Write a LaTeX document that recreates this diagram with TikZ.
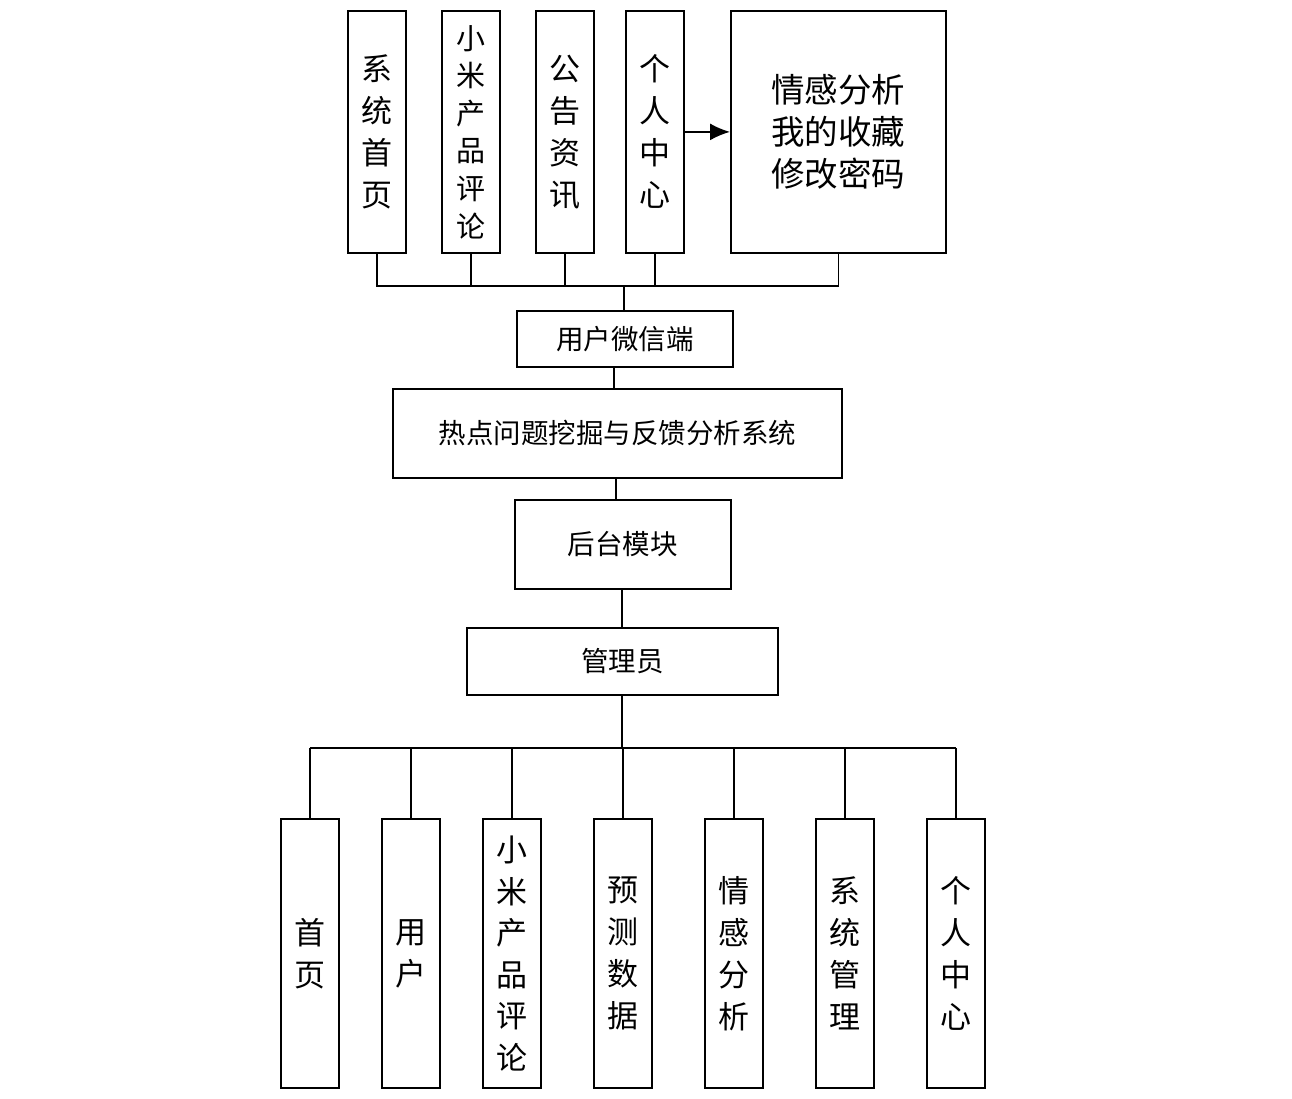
\documentclass[tikz,border=0pt]{standalone}
\usepackage{fontspec}
\setmainfont{Noto Sans CJK SC}
\usetikzlibrary{arrows.meta}
\begin{document}
\begin{tikzpicture}[x=1pt,y=-1pt,
  box/.style={draw=black,line width=1.8pt,inner sep=0pt,anchor=north west},
  vtxt/.style={align=center,font=\fontsize{31}{42}\selectfont},
  htxt/.style={font=\fontsize{27.5}{30}\selectfont},
  conn/.style={line width=1.8pt}]
\useasboundingbox (0,0) rectangle (1292,1099);
% top row
\node[box,minimum width=58pt,minimum height=242pt] (t1) at (347,10) {};
\node[box,minimum width=58pt,minimum height=242pt] (t2) at (441,10) {};
\node[box,minimum width=58pt,minimum height=242pt] (t3) at (535,10) {};
\node[box,minimum width=58pt,minimum height=242pt] (t4) at (625,10) {};
\node[box,minimum width=215pt,minimum height=242pt] (t5) at (730,10) {};
\node[vtxt] at (t1.center) {系\\统\\首\\页};
\node[vtxt,font=\fontsize{29}{37.6}\selectfont] at (t2.center) {小\\米\\产\\品\\评\\论};
\node[vtxt] at (t3.center) {公\\告\\资\\讯};
\node[vtxt] at (t4.center) {个\\人\\中\\心};
\node[vtxt,font=\fontsize{33.5}{42}\selectfont] at (t5.center) {情感分析\\我的收藏\\修改密码};
\draw[conn,-{Latex[length=20pt,width=17pt]}] (t4.east) -- (t5.west);
% middle
\node[box,minimum width=216pt,minimum height=56pt] (u) at (516,310) {};
\node[htxt] at (u.center) {用户微信端};
\node[box,minimum width=449pt,minimum height=89pt] (s) at (392,388) {};
\node[htxt] at (s.center) {热点问题挖掘与反馈分析系统};
\node[box,minimum width=216pt,minimum height=89pt] (b) at (514,499) {};
\node[htxt] at (b.center) {后台模块};
\node[box,minimum width=311pt,minimum height=67pt] (m) at (466,627) {};
\node[htxt] at (m.center) {管理员};
% top bus
\coordinate (tb) at (624,286);
\foreach \n in {t1,t2,t3,t4,t5}{
  \draw[conn] (\n.south) |- (tb);
}
\draw[conn] (t1.south |- tb) -- (t5.south |- tb);
\draw[conn] (tb) -- (u.north -| tb);
\draw[conn] (u.south -| 614,0) -- (s.north -| 614,0);
\draw[conn] (s.south -| 616,0) -- (b.north -| 616,0);
\draw[conn] (b.south -| 622,0) -- (m.north -| 622,0);
% bottom row
\node[box,minimum width=58pt,minimum height=269pt] (d1) at (280,818) {};
\node[box,minimum width=58pt,minimum height=269pt] (d2) at (381,818) {};
\node[box,minimum width=58pt,minimum height=269pt] (d3) at (482,818) {};
\node[box,minimum width=58pt,minimum height=269pt] (d4) at (593,818) {};
\node[box,minimum width=58pt,minimum height=269pt] (d5) at (704,818) {};
\node[box,minimum width=58pt,minimum height=269pt] (d6) at (815,818) {};
\node[box,minimum width=58pt,minimum height=269pt] (d7) at (926,818) {};
\node[vtxt] at (d1.center) {首\\页};
\node[vtxt] at (d2.center) {用\\户};
\node[vtxt,font=\fontsize{31}{41.5}\selectfont] at (d3.center) {小\\米\\产\\品\\评\\论};
\node[vtxt] at (d4.center) {预\\测\\数\\据};
\node[vtxt] at (d5.center) {情\\感\\分\\析};
\node[vtxt] at (d6.center) {系\\统\\管\\理};
\node[vtxt] at (d7.center) {个\\人\\中\\心};
\coordinate (bb) at (622,748);
\draw[conn] (m.south -| bb) -- (bb);
\draw[conn] (d1.north |- bb) -- (d7.north |- bb);
\foreach \n in {d1,d2,d3,d4,d5,d6,d7}{
  \draw[conn] (\n.north) -- (\n.north |- bb);
}
\end{tikzpicture}
\end{document}
